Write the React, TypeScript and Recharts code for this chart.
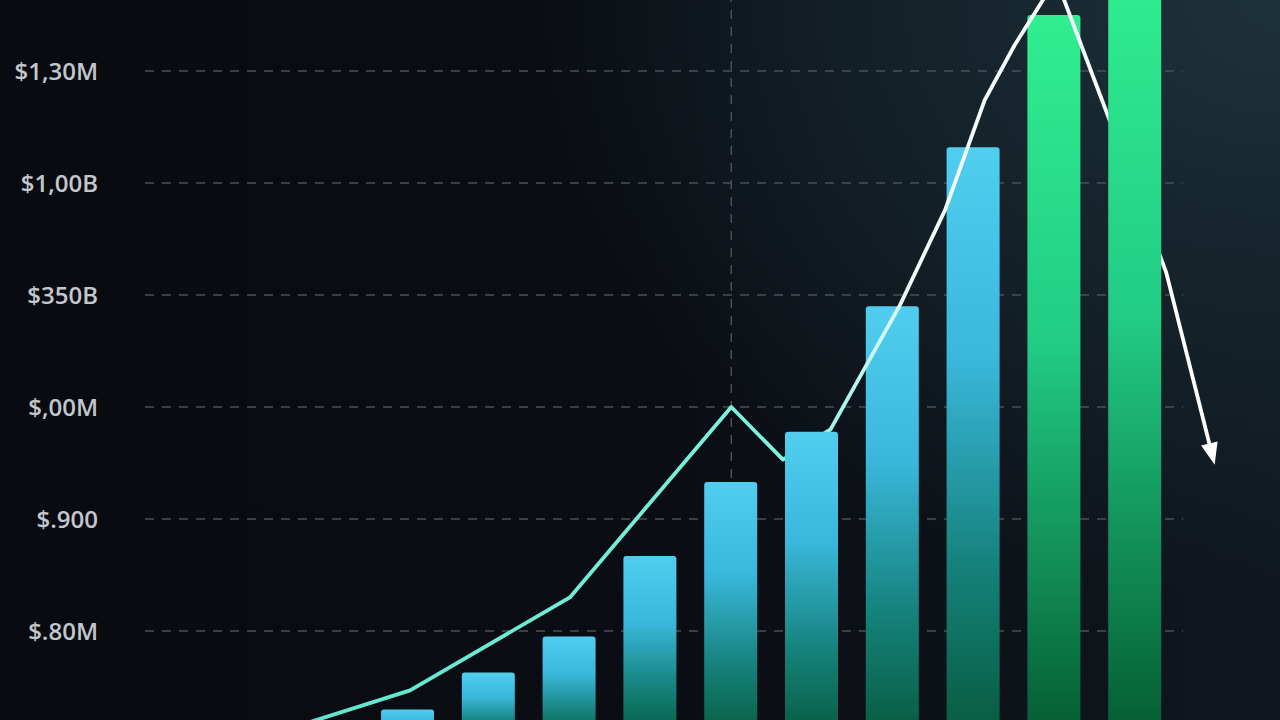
import React from "react";
import {
  ComposedChart,
  Bar,
  Line,
  Cell,
  XAxis,
  YAxis,
  CartesianGrid,
} from "recharts";

// bar heights, in grid steps (one step = one dashed line)
const BAR_LABELS = ["1", "2", "3", "4", "5", "6", "7", "8", "9", "10"];
const BAR_VALUES = [0.3, 0.63, 0.95, 1.67, 2.33, 2.78, 3.9, 5.32, 6.5, 6.95];
const GREEN_BARS = [9, 10];
const FRONT_BARS = [6, 10]; // these sit over the trend line

// trend line, x in bar slots (slot 1 = first bar)
const LINE_X = [-0.46, 1.03, 3.01, 5.01, 5.65, 6.24, 7.1, 7.66, 8.15, 8.52, 8.93, 9.1, 9.73, 10.4, 10.97];
const LINE_Y = [0.13, 0.47, 1.3, 3.0, 2.53, 2.8, 3.91, 4.76, 5.74, 6.23, 6.7, 6.7, 5.5, 4.2, 2.57];
const PEAK_X = 5.01;
const LINE_DOMAIN: [number, number] = [-2.255, 11.004];

const TICKS = [1, 2, 3, 4, 5, 6];
const TICK_LABELS = ["$.80M", "$.900", "$,00M", "$350B", "$1,00B", "$1,30M"];

const barData = BAR_LABELS.map((name, i) => {
  const n = i + 1;
  const front = FRONT_BARS.includes(n);
  return {
    name,
    back: front ? null : BAR_VALUES[i],
    front: front ? BAR_VALUES[i] : null,
    green: GREEN_BARS.includes(n),
  };
});

const lineData = LINE_X.map((x, i) => ({ x, y: LINE_Y[i] }));

const ArrowDot = (props: any) => {
  const { cx, cy, index } = props;
  if (index !== lineData.length - 1 || cx == null) return <g key={`d-${index}`} />;
  return (
    <polygon
      key={`d-${index}`}
      points="10,0 -12,-8.5 -12,8.5"
      fill="#ffffff"
      transform={`translate(${cx},${cy}) rotate(76)`}
    />
  );
};

// vertical dashed marker at the line's first peak, placed on the line axis
const peakGrid = ({ xAxis, offset }: any) => {
  if (xAxis && typeof xAxis.scale === "function") return [xAxis.scale(PEAK_X)];
  const [d0, d1] = LINE_DOMAIN;
  return [offset.left + ((PEAK_X - d0) / (d1 - d0)) * offset.width];
};

const barFill = (green: boolean) => (green ? "url(#greenBar)" : "url(#blueBar)");

export default function App() {
  return (
    <div
      style={{
        position: "absolute",
        left: 0,
        top: 0,
        width: 1280,
        height: 720,
        overflow: "hidden",
        background:
          "radial-gradient(ellipse 760px 600px at 100% 0%, #1e323b 0%, #16252d 40%, rgba(12,16,22,0) 100%), linear-gradient(90deg, #090b11 0%, #0a0d13 50%, #10171e 100%)",
      }}
    >
      <div style={{ position: "absolute", left: 0, top: -60 }}>
        <ComposedChart
          width={1280}
          height={820}
          data={barData}
          margin={{ top: 19, right: 65, bottom: 17, left: 0 }}
          barGap={0}
        >
          <defs>
            <linearGradient id="blueBar" x1="0" y1="0" x2="0" y2="1">
              <stop offset="0%" stopColor="#50cdef" />
              <stop offset="35%" stopColor="#3ab8dc" />
              <stop offset="70%" stopColor="#15827c" />
              <stop offset="100%" stopColor="#07593a" />
            </linearGradient>
            <linearGradient id="greenBar" x1="0" y1="0" x2="0" y2="1">
              <stop offset="0%" stopColor="#30ee90" />
              <stop offset="45%" stopColor="#22cc84" />
              <stop offset="100%" stopColor="#045a30" />
            </linearGradient>
            <linearGradient id="trend" x1="0" y1="0" x2="1" y2="0">
              <stop offset="0%" stopColor="#5fe4cc" />
              <stop offset="55%" stopColor="#80f2dd" />
              <stop offset="68%" stopColor="#f2fbfa" />
              <stop offset="100%" stopColor="#ffffff" />
            </linearGradient>
          </defs>
          <CartesianGrid
            x={145}
            width={1038}
            xAxisId="line"
            verticalCoordinatesGenerator={peakGrid}
            stroke="#4a5058"
            strokeWidth={1.5}
            strokeDasharray="9 8"
          />
          <XAxis
            xAxisId="bars"
            dataKey="name"
            type="category"
            hide
            padding={{ left: 222, right: 40 }}
          />
          <XAxis
            xAxisId="line"
            dataKey="x"
            type="number"
            hide
            domain={LINE_DOMAIN}
          />
          <YAxis
            domain={[0, 7]}
            ticks={TICKS}
            width={145}
            axisLine={false}
            tickLine={false}
            tickSize={0}
            tickMargin={47}
            tickFormatter={(v: number) => TICK_LABELS[TICKS.indexOf(v)] ?? ""}
            tick={{
              fill: "#c3c7cc",
              fontSize: 24,
              fontWeight: 600,
              fontFamily: "'Open Sans', 'DejaVu Sans', sans-serif",
            }}
          />
          <Bar
            xAxisId="bars"
            dataKey="back"
            stackId="b"
            barSize={53}
            radius={[3, 3, 0, 0]}
            isAnimationActive={false}
          >
            {barData.map((d, i) => (
              <Cell key={`b-${i}`} fill={barFill(d.green)} />
            ))}
          </Bar>
          <Line
            xAxisId="line"
            data={lineData}
            dataKey="y"
            type="linear"
            stroke="url(#trend)"
            strokeWidth={3.8}
            strokeLinejoin="round"
            dot={ArrowDot}
            activeDot={false}
            isAnimationActive={false}
          />
          <Bar
            xAxisId="bars"
            dataKey="front"
            stackId="b"
            barSize={53}
            radius={[3, 3, 0, 0]}
            zIndex={700}
            isAnimationActive={false}
          >
            {barData.map((d, i) => (
              <Cell key={`f-${i}`} fill={barFill(d.green)} />
            ))}
          </Bar>
        </ComposedChart>
      </div>
    </div>
  );
}
